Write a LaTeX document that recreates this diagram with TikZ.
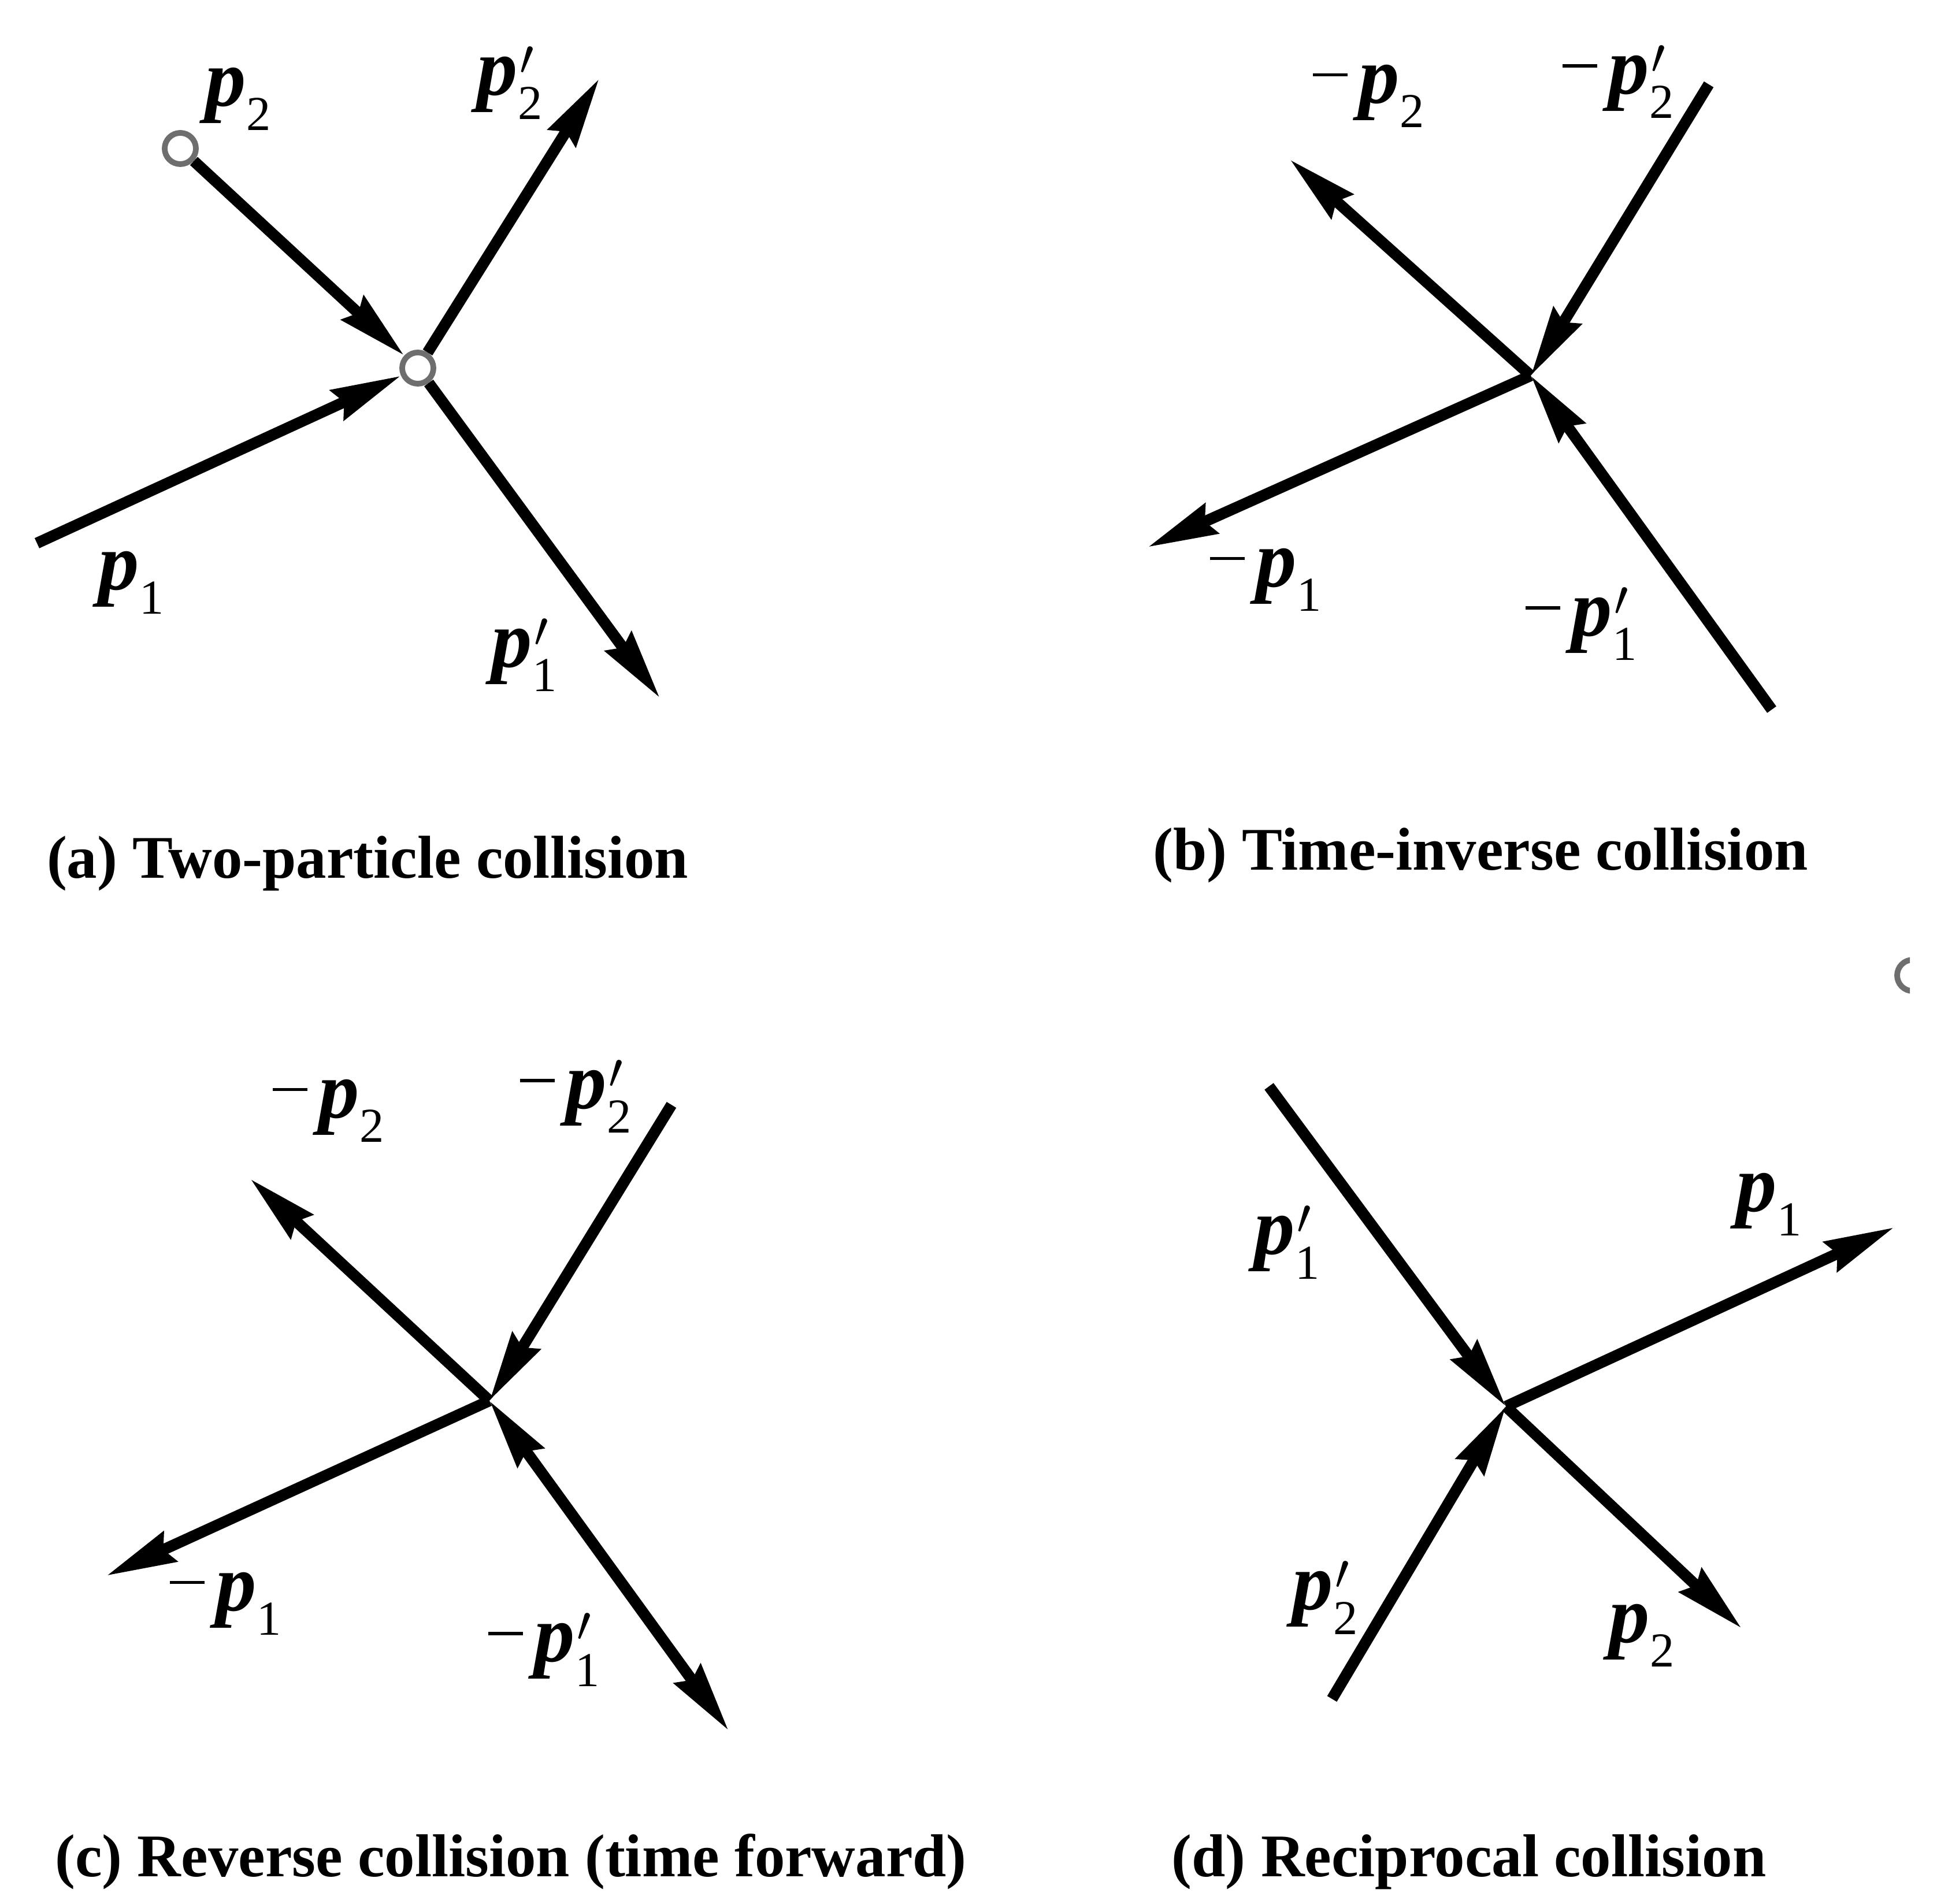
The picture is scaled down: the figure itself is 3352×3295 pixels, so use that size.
\documentclass[tikz,border=0pt]{standalone}
\usepackage{fontspec}
\setmainfont{Liberation Serif}
\usetikzlibrary{arrows.meta}
\definecolor{ballgray}{HTML}{6E6E6E}
\newcommand{\mn}{\raisebox{13pt}{\rule{0.6cm}{1.6pt}}\kern0.2cm}
\newcommand{\mom}[3]{#1{\bfseries\itshape p}\rlap{\kern1pt\raisebox{10pt}{\fontsize{34}{34}\selectfont$#3$}}\raisebox{-12pt}{\fontsize{24}{24}\selectfont #2}}
\begin{document}
\begin{tikzpicture}[x=0.01cm,y=-0.01cm,line cap=butt,>={Stealth[length=1.2cm,width=0.55cm,inset=0.12cm]},
  vec/.style={line width=5.5pt,->},
  vecs/.style={line width=5.5pt,<->},
  ball/.style={circle,draw=ballgray,fill=white,line width=2.8pt,minimum size=0.54cm,inner sep=0pt},
  lab/.style={inner sep=0pt,font=\fontsize{40}{40}\selectfont},
  captext/.style={inner sep=0pt,anchor=base,font=\fontsize{29.8}{29.8}\selectfont\bfseries}]
\useasboundingbox (0,0) rectangle (3352,3295);
% (a)
\node[ball] (ao) at (723,637) {};
\node[ball] (a2) at (312,257) {};
\coordinate (a1) at (64,940);
\coordinate (a1x) at (1142,1208);
\coordinate (a2x) at (1037,136);
\draw[vec] (a2) -- (ao);
\draw[vec] (a1) -- (ao);
\draw[vec] (ao) -- (a2x);
\draw[vec] (ao) -- (a1x);
\node[lab] (la2) at (412,171) {\mom{}{2}{}};
\node[lab] (la2x) at (882,144) {\mom{}{2}{\prime}};
\node[lab] (la1) at (227,1008) {\mom{}{1}{}};
\node[lab] (la1x) at (907,1134) {\mom{}{1}{\prime}};
\node[captext] (capa) at (636,1519) {(a) Two-particle collision};
% (b)
\coordinate (bo) at (2649,650);
\coordinate (b2) at (2232,276);
\coordinate (b2x) at (2957,146);
\coordinate (b1) at (1986,947);
\coordinate (b1x) at (3066,1228);
\draw[vec] (bo) -- (b2);
\draw[vec] (b2x) -- (bo);
\draw[vec] (bo) -- (b1);
\draw[vec] (b1x) -- (bo);
\node[lab] (lb2) at (2368,166) {\mom{\mn}{2}{}};
\node[lab] (lb2x) at (2800,142) {\mom{\mn}{2}{\prime}};
\node[lab] (lb1) at (2190,1003) {\mom{\mn}{1}{}};
\node[lab] (lb1x) at (2736,1080) {\mom{\mn}{1}{\prime}};
\node[captext] (capb) at (2562,1505) {(b) Time-inverse collision};
\begin{scope}
\clip (3200,1600) rectangle (3305,1780);
\node[ball] (e) at (3310,1688) {};
\end{scope}
% (c)
\coordinate (co) at (847,2424);
\coordinate (c2) at (433,2040);
\coordinate (c2x) at (1162,1912);
\coordinate (c1) at (184,2727);
\coordinate (c1x) at (1261,2995);
\draw[vec] (co) -- (c2);
\draw[vec] (c2x) -- (co);
\draw[vec] (co) -- (c1);
\draw[vecs] (co) -- (c1x);
\node[lab] (lc2) at (568,1922) {\mom{\mn}{2}{}};
\node[lab] (lc2x) at (996,1898) {\mom{\mn}{2}{\prime}};
\node[lab] (lc1) at (390,2775) {\mom{\mn}{1}{}};
\node[lab] (lc1x) at (941,2855) {\mom{\mn}{1}{\prime}};
\node[captext] (capc) at (884,3247) {(c) Reverse collision (time forward)};
% (d)
\coordinate (do) at (2606,2434);
\coordinate (d1x) at (2196,1880);
\coordinate (d1) at (3278,2124);
\coordinate (d2x) at (2305,2940);
\coordinate (d2) at (3014,2818);
\draw[vec] (d1x) -- (do);
\draw[vec] (do) -- (d1);
\draw[vec] (d2x) -- (do);
\draw[vec] (do) -- (d2);
\node[lab] (ld1x) at (2227,2150) {\mom{}{1}{\prime}};
\node[lab] (ld1) at (3061,2084) {\mom{}{1}{}};
\node[lab] (ld2x) at (2293,2765) {\mom{}{2}{\prime}};
\node[lab] (ld2) at (2841,2830) {\mom{}{2}{}};
\node[captext] (capd) at (2542,3247) {(d) Reciprocal collision};
\end{tikzpicture}
\end{document}
